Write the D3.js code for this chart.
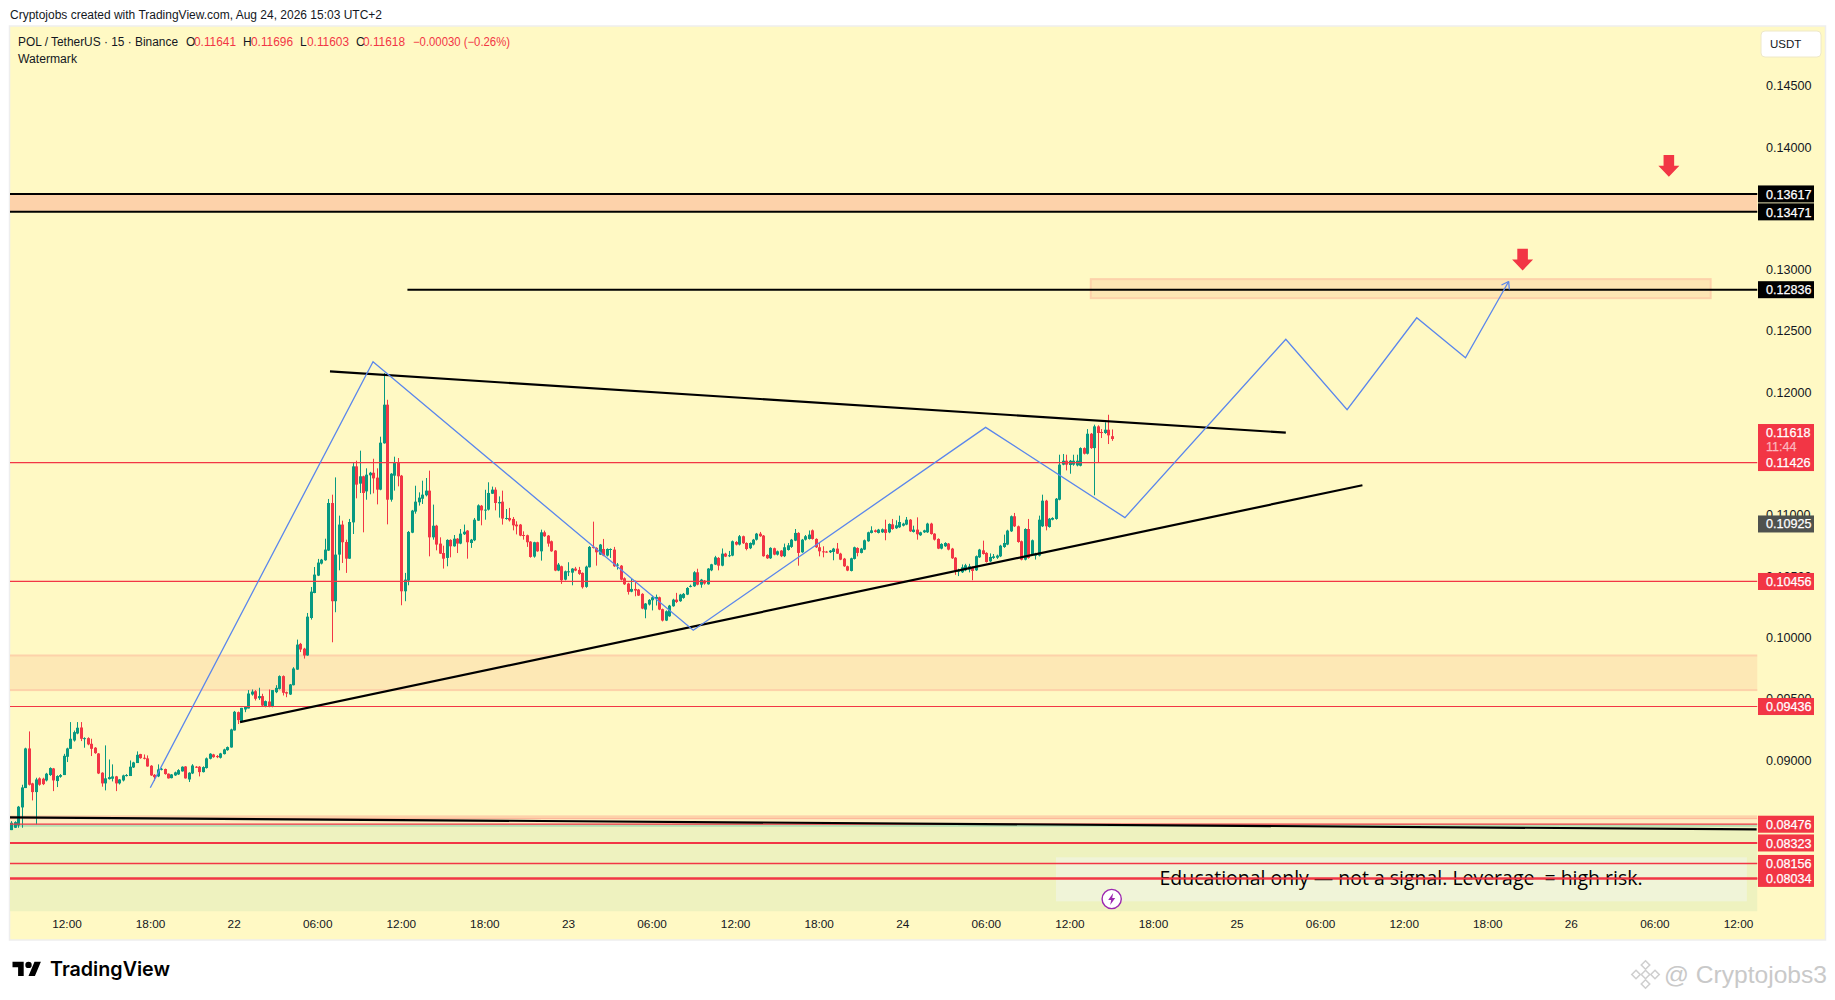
<!DOCTYPE html>
<html><head><meta charset="utf-8">
<style>html,body{margin:0;padding:0;background:#fff}svg{display:block}text{font-family:"Liberation Sans",sans-serif}</style>
<script src="https://d3js.org/d3.v7.min.js"></script></head><body>
<svg id="c" width="1835" height="1000"></svg>
<script>
// prices in 1e-5 USDT, 15-minute bars from 21 Aug 08:00
const opens=[8428,8447,8466,8613,8771,9094,8809,8738,8850,8847,
8833,8877,8931,8828,8863,8877,9026,9091,9159,9216,
9265,9173,9178,9132,9100,9053,8896,8809,8844,8847,
8866,8809,8833,8871,8869,8939,8975,9048,9018,9013,
8953,8879,8866,8920,8926,8888,8852,8874,8882,8907,
8947,8841,8890,8945,8945,8901,8934,9010,9045,9032,
9018,9048,9080,9102,9241,9390,9316,9412,9420,9534,
9561,9504,9521,9439,9477,9434,9553,9580,9684,9553,
9534,9610,9737,9947,9908,9852,10158,10362,10504,10602,
10629,10708,11096,10295,10675,10920,10778,10642,10938,11395,
11254,11314,11191,11322,11343,11303,11205,11583,11898,11123,
11319,11422,11319,10376,10463,10854,11026,11102,11131,11159,
11197,10816,10911,10765,10688,10648,10795,10743,10805,10765,
10841,10871,10770,10792,10952,11074,11034,11042,11172,11205,
11093,11107,10966,10974,10966,10920,10920,10835,10833,10781,
10659,10776,10702,10857,10830,10784,10708,10545,10580,10471,
10534,10528,10561,10550,10526,10412,10572,10738,10730,10675,
10721,10667,10716,10716,10585,10585,10482,10439,10373,10395,
10390,10355,10227,10268,10303,10314,10327,10230,10137,10172,
10254,10308,10295,10322,10349,10412,10417,10531,10430,10463,
10433,10547,10594,10648,10585,10683,10662,10667,10778,10757,
10825,10770,10727,10757,10797,10846,10830,10672,10645,10727,
10675,10708,10662,10713,10738,10789,10852,10694,10797,10803,
10873,10803,10735,10702,10700,10694,10697,10724,10683,10642,
10580,10542,10640,10729,10689,10716,10784,10852,10873,10852,
10857,10882,10857,10922,10890,10898,10911,10920,10960,10860,
10879,10833,10857,10857,10928,10846,10803,10724,10743,10765,
10724,10650,10536,10531,10547,10553,10572,10547,10653,10710,
10689,10620,10648,10650,10661,10737,10757,10865,10988,10906,
10784,10634,10884,10675,10667,10667,10906,11115,10900,10960,
10966,11123,11409,11441,11406,11409,11403,11400,11544,11498,
11661,11544,11721,11675,11667,11694,11641];
const highs=[8501,8500,8625,8798,9100,9233,8814,8855,8858,8855,
8895,8940,8935,8875,8885,9050,9100,9309,9240,9309,
9309,9185,9185,9173,9105,9056,8900,9119,9004,8964,
8870,8845,8880,8885,8996,8985,9070,9050,9045,9037,
8958,8885,8964,8935,8930,8890,8885,8905,8925,8948,
8950,8900,8966,8950,8950,8948,9020,9055,9050,9040,
9058,9092,9110,9255,9400,9395,9425,9440,9570,9575,
9570,9589,9540,9485,9575,9570,9610,9690,9690,9558,
9620,9757,9982,9955,9915,10199,10411,10574,10640,10640,
10805,11129,11164,11305,10993,10952,10797,10966,11430,11441,
11523,11319,11379,11350,11457,11379,11637,12156,11938,11340,
11474,11463,11325,10526,10868,11040,11237,11183,11278,11300,
11360,11083,10918,10816,10748,10800,10800,10835,10810,10884,
10920,10875,10803,10974,11085,11080,11204,11265,11230,11224,
11150,11197,11047,11056,10982,10947,10925,10865,10838,10785,
10780,10780,10879,10871,10835,10790,10712,10607,10585,10545,
10613,10565,10575,10575,10530,10585,10745,10944,10735,10762,
10803,10726,10726,10738,10607,10590,10490,10445,10480,10463,
10395,10360,10280,10312,10340,10349,10332,10235,10220,10265,
10315,10363,10355,10362,10410,10430,10540,10560,10477,10468,
10565,10600,10665,10655,10725,10690,10705,10790,10785,10835,
10830,10775,10775,10803,10852,10860,10835,10678,10735,10732,
10708,10712,10765,10770,10803,10884,10858,10803,10835,10872,
10880,10808,10770,10743,10705,10712,10730,10770,10690,10648,
10585,10650,10740,10735,10730,10798,10862,10906,10880,10885,
10888,10960,10930,10966,10955,10993,10935,10982,10965,10911,
10979,10862,10878,10935,10935,10850,10808,10768,10776,10770,
10730,10655,10560,10595,10600,10600,10578,10668,10722,10789,
10695,10685,10680,10675,10755,10838,10878,10994,11015,10912,
10790,10890,10966,10798,10690,10993,11164,11122,10974,10980,
11137,11490,11496,11490,11447,11490,11490,11550,11550,11699,
11667,11735,11730,11699,11754,11816,11696];
const lows=[8428,8445,8447,8447,8771,8792,8670,8475,8790,8795,
8825,8870,8746,8779,8855,8877,8983,9091,9150,9210,
9154,9100,9120,9032,9050,8885,8782,8752,8840,8825,
8746,8800,8825,8865,8869,8935,8975,9010,9005,8945,
8870,8828,8860,8915,8880,8848,8850,8870,8878,8905,
8848,8820,8885,8935,8866,8898,8930,9005,9018,9015,
9012,9045,9075,9100,9240,9293,9310,9390,9420,9525,
9485,9490,9440,9430,9430,9430,9545,9575,9526,9512,
9530,9608,9735,9880,9827,9850,10145,10360,10500,10595,
10625,10705,9960,10205,10547,10607,10526,10640,10843,11134,
11178,10857,11123,11167,11175,11085,11200,11580,10922,11107,
11197,11232,10262,10295,10425,10850,11009,11075,11088,11150,
10661,10797,10710,10680,10561,10580,10653,10740,10688,10760,
10835,10642,10730,10785,10950,10914,10960,11035,11170,11036,
10977,10920,10960,10945,10873,10840,10825,10797,10738,10650,
10650,10698,10626,10820,10740,10698,10540,10540,10436,10465,
10500,10425,10540,10510,10398,10405,10570,10725,10585,10672,
10662,10660,10648,10575,10553,10465,10428,10349,10368,10335,
10338,10230,10156,10260,10220,10260,10222,10130,10133,10168,
10250,10280,10290,10315,10345,10408,10412,10425,10405,10430,
10430,10540,10590,10547,10580,10655,10655,10662,10750,10750,
10762,10710,10720,10750,10790,10820,10658,10640,10640,10670,
10668,10655,10655,10708,10730,10785,10585,10690,10790,10798,
10798,10730,10661,10653,10690,10688,10629,10680,10630,10575,
10540,10538,10635,10661,10685,10712,10780,10848,10855,10848,
10852,10792,10850,10878,10885,10893,10905,10915,10860,10855,
10797,10828,10852,10852,10838,10790,10720,10718,10738,10710,
10640,10510,10500,10525,10540,10530,10466,10542,10648,10675,
10610,10615,10640,10640,10655,10730,10752,10860,10900,10772,
10628,10628,10642,10670,10635,10660,10900,10873,10895,10955,
10960,11118,11404,11362,11335,11400,11395,11395,11492,11492,
11538,11159,11430,11626,11660,11577,11603];
const closes=[8488,8493,8619,8776,9094,8798,8738,8841,8798,8803,
8888,8934,8833,8869,8877,9034,9094,9173,9227,9263,
9173,9178,9127,9091,9056,8890,8809,8850,8860,8866,
8809,8841,8874,8877,8945,8980,9042,9015,9013,8947,
8874,8860,8923,8928,8885,8850,8882,8899,8917,8945,
8850,8896,8955,8939,8901,8942,9013,9051,9023,9023,
9053,9086,9105,9249,9393,9325,9425,9434,9542,9558,
9499,9521,9444,9480,9434,9570,9588,9684,9548,9542,
9616,9746,9941,9901,9852,10169,10373,10512,10610,10634,
10716,11096,10295,10675,10920,10776,10642,10941,11395,11246,
11314,11178,11327,11343,11297,11205,11588,11898,11123,11335,
11422,11314,10376,10471,10860,11034,11107,11140,11164,11197,
10816,10911,10757,10683,10642,10795,10743,10805,10765,10846,
10862,10776,10797,10960,11077,11036,11042,11178,11205,11096,
11104,10969,10974,10955,10914,10906,10830,10830,10776,10656,
10776,10702,10857,10825,10765,10702,10545,10594,10466,10539,
10539,10561,10545,10518,10409,10577,10738,10730,10694,10757,
10667,10721,10721,10580,10594,10471,10433,10371,10395,10382,
10341,10235,10276,10306,10327,10330,10227,10137,10213,10259,
10308,10289,10349,10355,10403,10420,10531,10430,10471,10439,
10561,10596,10653,10585,10683,10659,10670,10784,10757,10825,
10768,10721,10770,10797,10846,10825,10662,10645,10730,10675,
10702,10662,10735,10751,10797,10852,10689,10797,10825,10838,
10803,10735,10702,10697,10694,10708,10724,10683,10634,10580,
10545,10645,10735,10689,10724,10792,10857,10873,10860,10879,
10882,10852,10925,10884,10914,10941,10928,10960,10865,10879,
10841,10857,10873,10928,10843,10797,10724,10762,10770,10716,
10645,10545,10547,10572,10588,10580,10542,10662,10716,10680,
10615,10656,10661,10667,10748,10770,10871,10988,10906,10778,
10634,10884,10648,10792,10683,10960,11115,10906,10968,10974,
11131,11409,11441,11409,11441,11441,11441,11544,11498,11661,
11544,11721,11667,11669,11694,11648,11618];

const UNIT=1e-5;
const firstBar=Date.UTC(2026,7,21,8,0), BAR=15*60000, HOUR=3600000;
const refTime=Date.UTC(2026,7,21,12,0);            // hours in the drawings count from here

const priceTicks=[0.145,0.14,0.135,0.13,0.125,0.12,0.115,0.11,0.105,0.10,0.095,0.09,0.085];
const timeTicks=["2026-08-21T12:00","2026-08-21T18:00","2026-08-22T00:00","2026-08-22T06:00","2026-08-22T12:00","2026-08-22T18:00","2026-08-23T00:00","2026-08-23T06:00","2026-08-23T12:00","2026-08-23T18:00","2026-08-24T00:00","2026-08-24T06:00","2026-08-24T12:00","2026-08-24T18:00","2026-08-25T00:00","2026-08-25T06:00","2026-08-25T12:00","2026-08-25T18:00","2026-08-26T00:00","2026-08-26T06:00","2026-08-26T12:00"];
const timeLabels=["12:00","18:00","22","06:00","12:00","18:00","23","06:00","12:00","18:00","24","06:00","12:00","18:00","25","06:00","12:00","18:00","26","06:00","12:00"];

// full-width zones [low, high, fill]
const zoneLows=[13471,9561,8546,8530,8515,8476,7766,8455];
const zoneHighs=[13617,9852,8548,8546,8530,8515,8476,8476];
const zoneFills=["#fdd2aa","#fde8b5","#fdb99a","#fdd2aa","#fdb99a","#feeec3","#eef2bf","#b5dfb4"];
// red/black horizontal levels
const levelPrices=[0.13617,0.13471,0.12836,0.11426,0.10456,0.09436,0.08476,0.08323,0.08156,0.08034];
const levelColors=["#000","#000","#000","#f23645","#f23645","#f23645","#f23645","#f23645","#f23645","#f23645"];
const levelWidths=[2,2,2,1.2,1.2,1.2,1.2,2,1.4,2];
const levelStartHours=[-5,-5,24.44,-5,-5,-5,-5,-5,-5,-5];
// blue projected path
const pathHours=[5.98,21.97,44.96,65.95,75.95,87.5,91.9,96.9,100.4,103.5];
const pathPrices=[8774,12248,10058,11713,10977,12432,11857,12607,12281,12903];
// trend lines [h0,p0,h1,p1]
const trendH0=[18.88,12.42,-4.1], trendP0=[12169,9309,8532], trendH1=[87.5,93.0,121.3], trendP1=[11670,11241,8434];
// arrows
const arrowHours=[115,104.5], arrowPrices=[13935,13169];

const svg=d3.select("#c");
const W=1835;
const x=d3.scaleUtc().domain([Date.UTC(2026,7,21,12),Date.UTC(2026,7,26,12)]).range([67,1738.5]);
const y=d3.scaleLinear().domain([0.145,0.08034]).range([85.7,878.4]);
const xh=h=>x(refTime+h*HOUR);
const yu=u=>y(u*UNIT);
const PL=10,PR=1757.5,PT=27,PB=912;

svg.append("rect").attr("x",0).attr("y",0).attr("width",W).attr("height",1000).attr("fill","#fff");
svg.append("rect").attr("x",PL-.5).attr("y",PT-1).attr("width",1825-PL+1).attr("height",939-PT+2).attr("fill","#fff9c4").attr("stroke","#eeeeee").attr("stroke-width",1.5);

const defs=svg.append("defs");
defs.append("clipPath").attr("id","pane").append("rect").attr("x",PL).attr("y",PT).attr("width",PR-PL).attr("height",PB-PT);
const pane=svg.append("g").attr("clip-path","url(#pane)");

// zones
zoneLows.forEach((lo,i)=>{
  pane.append("rect").attr("x",PL).attr("width",PR-PL).attr("y",yu(zoneHighs[i])).attr("height",yu(lo)-yu(zoneHighs[i])).attr("fill",zoneFills[i]);
});
// borders of mid zone
[9852,9570].forEach(u=>pane.append("line").attr("x1",PL).attr("x2",PR).attr("y1",yu(u)).attr("y2",yu(u)).attr("stroke","#fdd2aa").attr("stroke-width",2));
// small target zone
pane.append("rect").attr("x",xh(73.5)).attr("width",xh(118)-xh(73.5)).attr("y",yu(12922)).attr("height",yu(12767)-yu(12922)).attr("fill","#fde6b4").attr("stroke","#fdd2aa").attr("stroke-width",2);
// notice box
pane.append("rect").attr("x",xh(71)).attr("width",xh(120.6)-xh(71)).attr("y",yu(8206)).attr("height",yu(7847)-yu(8206)).attr("fill","#f0f4d8");

// candles
const idx=d3.range(opens.length);
const up=i=>closes[i]>=opens[i];
const barX=i=>Math.round(x(firstBar+i*BAR));
const GREEN="#089981",RED="#f23645";
const cg=pane.append("g");
cg.selectAll("line").data(idx).join("line")
 .attr("x1",i=>barX(i)+.5).attr("x2",i=>barX(i)+.5)
 .attr("y1",i=>yu(highs[i])).attr("y2",i=>yu(lows[i]))
 .attr("stroke",i=>up(i)?GREEN:RED).attr("stroke-width",1);
cg.selectAll("rect").data(idx).join("rect")
 .attr("x",i=>barX(i)-1).attr("width",3)
 .attr("y",i=>yu(Math.max(opens[i],closes[i])))
 .attr("height",i=>Math.max(1,Math.abs(yu(opens[i])-yu(closes[i]))))
 .attr("fill",i=>up(i)?GREEN:RED);

// levels
levelPrices.forEach((p,i)=>{
  pane.append("line").attr("x1",xh(levelStartHours[i])).attr("x2",PR).attr("y1",y(p)).attr("y2",y(p)).attr("stroke",levelColors[i]).attr("stroke-width",levelWidths[i]);
});
// trend lines
trendH0.forEach((h,i)=>{
  pane.append("line").attr("x1",xh(h)).attr("y1",yu(trendP0[i])).attr("x2",xh(trendH1[i])).attr("y2",yu(trendP1[i])).attr("stroke","#000").attr("stroke-width",2.2);
});
// blue path
const BLUE="#5a86ec";
const ln=d3.line().x((d,i)=>xh(pathHours[i])).y((d,i)=>yu(pathPrices[i]));
pane.append("path").attr("d",ln(pathHours)).attr("fill","none").attr("stroke",BLUE).attr("stroke-width",1.3);
(function(){const n=pathHours.length-1;const tx=xh(pathHours[n]),ty=yu(pathPrices[n]);
 const a=Math.atan2(ty-yu(pathPrices[n-1]),tx-xh(pathHours[n-1]));
 [-0.6,0.6].forEach(d=>pane.append("line").attr("x1",tx).attr("y1",ty).attr("x2",tx-8*Math.cos(a+d)).attr("y2",ty-8*Math.sin(a+d)).attr("stroke",BLUE).attr("stroke-width",1.3));
})();
// red arrows
arrowHours.forEach((h,i)=>{
  pane.append("path").attr("transform",`translate(${xh(h)},${yu(arrowPrices[i])})`)
   .attr("d","M-5.3,0H5.3V10.7H10.5L0,21.7L-10.5,10.7H-5.3Z").attr("fill","#f23645");
});
// notice text
pane.append("text").attr("x",1401).attr("y",yu(8034)+7).attr("text-anchor","middle").attr("font-size",20.5).attr("fill","#000")
 .style("font-family","'Open Sans',sans-serif").style("white-space","pre").attr("textLength",483).attr("lengthAdjust","spacingAndGlyphs").text("Educational only — not a signal. Leverage  = high risk.");
// re-draw red level lines over notice text
[0.08034].forEach(p=>pane.append("line").attr("x1",PL).attr("x2",PR).attr("y1",y(p)).attr("y2",y(p)).attr("stroke","#f23645").attr("stroke-width",2));

// bolt marker at the last bar
const lastX=x(firstBar+(opens.length-1)*BAR);
svg.append("circle").attr("cx",lastX).attr("cy",899).attr("r",9.6).attr("fill","#fff").attr("stroke","#9c27b0").attr("stroke-width",1.4);
svg.append("path").attr("transform",`translate(${lastX},899)`).attr("d","M1.5,-6L-3.5,1H-0.5L-1.5,6L3.5,-1H0.5Z").attr("fill","#9c27b0");

// axes
const yAxis=d3.axisRight(y).tickValues(priceTicks).tickSize(0).tickPadding(0).tickFormat(d3.format(".5f"));
const ya=svg.append("g").attr("transform","translate(1766,0)").call(yAxis);
ya.select(".domain").remove();
ya.selectAll("text").attr("font-size",12.6).attr("fill","#131722").style("font-family","'Liberation Sans',sans-serif");
const xAxis=d3.axisBottom(x).tickValues(timeTicks.map(t=>Date.parse(t+"Z"))).tickSize(0).tickPadding(0).tickFormat((d,i)=>timeLabels[i]);
const xa=svg.append("g").attr("transform","translate(-0.5,920)").call(xAxis);
xa.select(".domain").remove();
xa.selectAll("text").attr("font-size",11.8).attr("fill","#131722").style("font-family","'Liberation Sans',sans-serif");

// price tags
function tag(p,fill){
  const cy=y(p);
  svg.append("rect").attr("x",1758).attr("y",cy-8.5).attr("width",56).attr("height",17).attr("fill",fill);
}
function tagText(p,yy,col){
  svg.append("text").attr("x",1766).attr("y",yy).attr("dy","0.35em").attr("font-size",12.6).attr("fill",col||"#fff").attr("stroke",col||"#fff").attr("stroke-width",0.25).text(p);
}
levelPrices.forEach((p,i)=>{tag(p,levelColors[i]==="#000"?"#000":"#f23645");});
const curr=closes[closes.length-1]*UNIT;
svg.append("rect").attr("x",1758).attr("y",y(curr)-15).attr("width",56).attr("height",32).attr("fill","#f23645");
svg.append("rect").attr("x",1758).attr("y",y(0.10925)-8.5).attr("width",56).attr("height",17).attr("fill","#4f524e");
levelPrices.forEach(p=>tagText(p.toFixed(5),y(p)+0.3));
tagText(curr.toFixed(5),y(curr)-6.5);
tagText("11:44",y(curr)+8,"#fbb8be");
tagText((0.10925).toFixed(5),y(0.10925));

// USDT button
svg.append("rect").attr("x",1761).attr("y",31).attr("width",60).attr("height",26).attr("rx",4).attr("fill","#fff").attr("stroke","#eee8c8");
svg.append("text").attr("x",1770).attr("y",44).attr("dy","0.35em").attr("font-size",11.5).attr("fill","#131722").text("USDT");

// header and legend
function t(tx,ty,s,col,fs,len){const e=svg.append("text").attr("x",tx).attr("y",ty).attr("dy","0.35em").attr("font-size",fs||12).attr("fill",col||"#131722").text(s);if(len)e.attr("textLength",len).attr("lengthAdjust","spacingAndGlyphs");return e;}
t(10,15,"Cryptojobs created with TradingView.com, Aug 24, 2026 15:03 UTC+2","#131722",12,372);
t(18,41.5,"POL / TetherUS · 15 · Binance","#131722",12,160);
t(186,41.5,"O");t(194,41.5,"0.11641",RED,12,42);
t(243,41.5,"H");t(251,41.5,"0.11696",RED,12,42);
t(300,41.5,"L");t(307,41.5,"0.11603",RED,12,42);
t(356,41.5,"C");t(363,41.5,"0.11618",RED,12,42);
t(413,41.5,"−0.00030 (−0.26%)",RED,12,97);
t(18,58.5,"Watermark","#131722",12,59);

// TradingView logo
const lg=svg.append("g").attr("transform","translate(12.5,958.5) scale(0.8)").attr("fill","#000");
lg.append("path").attr("d","M14 22H7V11H0V4h14v18zM28 22h-8l7.5-18h8L28 22z");
lg.append("circle").attr("cx",20).attr("cy",8).attr("r",4);
svg.append("text").attr("x",50).attr("y",976).attr("font-size",20).attr("font-weight",600).attr("fill","#000").style("font-family","Inter,sans-serif").attr("textLength",120).attr("lengthAdjust","spacingAndGlyphs").text("TradingView");

// watermark
const wm=svg.append("g").attr("fill","none").attr("stroke","#cfcfcf").attr("stroke-width",1.6);
[[1645.5,965,4.2],[1636,974.5,4.2],[1655,974.5,4.2],[1645.5,984,4.2],[1645.5,974.5,4.2]].forEach(d=>wm.append("path").attr("d",`M${d[0]},${d[1]-d[2]}L${d[0]+d[2]},${d[1]}L${d[0]},${d[1]+d[2]}L${d[0]-d[2]},${d[1]}Z`));
svg.append("text").attr("x",1664).attr("y",983).attr("font-size",24).attr("fill","#c9c9c9").attr("textLength",163).attr("lengthAdjust","spacingAndGlyphs").text("@ Cryptojobs3");
</script></body></html>
